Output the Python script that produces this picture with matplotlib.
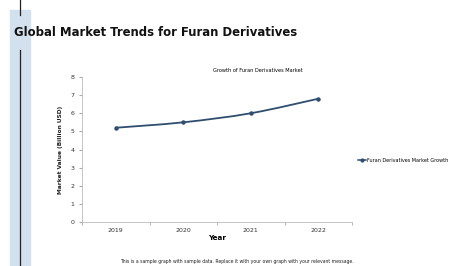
import matplotlib.pyplot as plt
import numpy as np
from matplotlib.path import Path
from matplotlib.patches import PathPatch, Rectangle
from matplotlib.lines import Line2D

years = ["2019", "2020", "2021", "2022"]
market_value = [5.2, 5.5, 6.0, 6.8]

LINE_COLOR = "#2f4d6e"

fig = plt.figure(figsize=(4.74, 2.66), dpi=100)
fig.patch.set_facecolor("white")

# decoracao lateral
fig.patches.append(Rectangle((10 / 474, 0), 20 / 474, 1 - 10 / 266,
                             transform=fig.transFigure, color="#d3e1ef", zorder=0))
fig.add_artist(Line2D([20 / 474, 20 / 474], [1, 1 - 15 / 266], transform=fig.transFigure,
                      color="#222222", lw=0.9))
fig.add_artist(Line2D([20 / 474, 20 / 474], [1 - 50 / 266, 0], transform=fig.transFigure,
                      color="#222222", lw=0.9))

fig.text(14 / 474, 1 - 33 / 266, "Global Market Trends for Furan Derivatives",
         fontsize=8.4, fontweight="bold", va="center", ha="left", color="#111111")

ax = fig.add_axes([82 / 474, 44 / 266, 270 / 474, 145 / 266])
x = np.arange(len(years))
y = np.array(market_value, dtype=float)

# curva suavizada (Catmull-Rom -> Bezier)
verts = [(x[0], y[0])]
codes = [Path.MOVETO]
for i in range(len(x) - 1):
    p0 = (x[max(i - 1, 0)], y[max(i - 1, 0)])
    p1 = (x[i], y[i])
    p2 = (x[i + 1], y[i + 1])
    p3 = (x[min(i + 2, len(x) - 1)], y[min(i + 2, len(x) - 1)])
    c1 = (p1[0] + (p2[0] - p0[0]) / 6, p1[1] + (p2[1] - p0[1]) / 6)
    c2 = (p2[0] - (p3[0] - p1[0]) / 6, p2[1] - (p3[1] - p1[1]) / 6)
    verts += [c1, c2, p2]
    codes += [Path.CURVE4] * 3
ax.add_patch(PathPatch(Path(verts, codes), facecolor="none", edgecolor=LINE_COLOR, lw=1.3))
ax.plot(x, y, linestyle="none", marker="o", markersize=2.2, color=LINE_COLOR,
        label="Furan Derivatives Market Growth")

ax.set_xlim(-0.5, len(years) - 0.5)
ax.set_ylim(0, 8)
ax.set_xticks(x)
ax.set_xticklabels(years)
ax.set_xticks(np.arange(-0.5, len(years)), minor=True)
ax.tick_params(axis="x", which="major", length=0, labelsize=4.5, pad=4, colors="#333333")
ax.tick_params(axis="x", which="minor", length=2, color="#aaaaaa")
ax.tick_params(axis="y", length=2, labelsize=4.5, colors="#333333", color="#aaaaaa")
for s in ["top", "right"]:
    ax.spines[s].set_visible(False)
for s in ["left", "bottom"]:
    ax.spines[s].set_color("#bbbbbb")
    ax.spines[s].set_linewidth(0.6)

ax.set_xlabel("Year", fontsize=5.2, fontweight="bold", labelpad=2)
ax.set_ylabel("Market Value (Billion USD)", fontsize=4.2, fontweight="bold", labelpad=5,
              color="#222222")
ax.set_title("Growth of Furan Derivatives Market", fontsize=3.6, pad=3.5, x=0.65)

handles, labels = ax.get_legend_handles_labels()
leg_line = Line2D([], [], color=LINE_COLOR, lw=1.1, marker="o", markersize=2)
fig.legend([leg_line], labels, loc="center left", bbox_to_anchor=(354 / 474, 1 - 160 / 266),
           frameon=False, fontsize=3.5, handlelength=1.6, handletextpad=0.2)

fig.text(237 / 474, 1 - 261 / 266,
         "This is a sample graph with sample data. Replace it with your own graph with your relevant message.",
         fontsize=3.35, ha="center", va="center", color="#222222")

fig.savefig("out.png", dpi=100, facecolor="white")
